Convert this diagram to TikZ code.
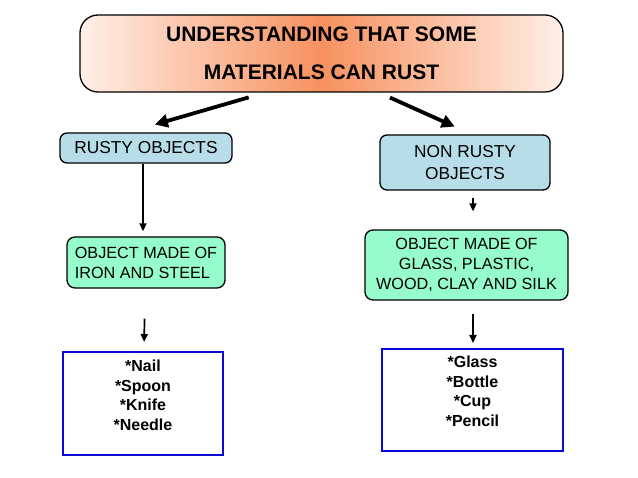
\documentclass[tikz,border=0pt]{standalone}
\usepackage{fontspec}
\setmainfont{Liberation Sans}
\usepackage{xcolor}
\usetikzlibrary{arrows.meta,positioning}
\definecolor{rustorange}{RGB}{247,145,95}
\definecolor{rustedge}{RGB}{255,240,232}
\definecolor{headblue}{RGB}{183,222,232}
\definecolor{kindgreen}{RGB}{150,252,204}
\definecolor{listblue}{RGB}{10,10,210}

\begin{document}
\begin{tikzpicture}[
  x=1pt, y=-1pt,
  titlebox/.style={draw, line width=1.3pt, rounded corners=18pt, left color=rustedge, right color=rustedge, middle color=rustorange,
    minimum width=483pt, minimum height=77pt, align=center, font=\fontsize{21}{38}\selectfont\bfseries},
  headbox/.style={draw, line width=1.3pt, rounded corners=7pt, fill=headblue, align=center, inner sep=0pt,
    font=\fontsize{17.3}{22}\selectfont},
  kindbox/.style={draw, line width=1.3pt, rounded corners=8pt, fill=kindgreen, inner sep=0pt,
    font=\fontsize{16.2}{20}\selectfont},
  listbox/.style={draw=listblue, line width=2pt, fill=white, inner sep=0pt},
  listtxt/.style={align=center, inner sep=0pt, font=\fontsize{16}{19.5}\selectfont\bfseries},
  bigarr/.style={-{Triangle[length=13pt, width=13pt]}, line width=3.8pt},
  arr/.style={-{Triangle[length=8pt, width=7pt]}, line width=1.7pt}
]
  \useasboundingbox (0,0) rectangle (638,478);

  \node[titlebox] (title) at (321.5, 53.5) {UNDERSTANDING THAT SOME\\MATERIALS CAN RUST};

  \node[headbox, minimum width=172pt, minimum height=30pt] (rusty)    at (146, 148)   {RUSTY OBJECTS};
  \node[headbox, minimum width=170pt, minimum height=55pt] (nonrusty) at (465, 162.5) {NON RUSTY\\OBJECTS};

  \node[kindbox, minimum width=158pt, minimum height=51pt, align=left] (iron) at (146, 262.5)
    {OBJECT MADE OF\\IRON AND STEEL};
  \node[kindbox, minimum width=203pt, minimum height=70pt, align=center] (glass) at (466.5, 265)
    {OBJECT MADE OF\\GLASS, PLASTIC,\\WOOD, CLAY AND SILK};

  % example lists
  \node[listbox, minimum width=160pt, minimum height=103pt] (nailbox)  at (143, 403.5) {};
  \node[listtxt, below=9pt of nailbox.north] (nails) {*Nail\\*Spoon\\*Knife\\*Needle};
  \node[listbox, minimum width=181pt, minimum height=102pt] (glassbox) at (472.5, 400) {};
  \node[listtxt, below=8pt of glassbox.north] (glasses) {*Glass\\*Bottle\\*Cup\\*Pencil};

  \draw[bigarr, shorten <=17pt, shorten >=28pt] ([xshift=-56.5pt]title.south) -- ([xshift=-18pt]rusty.north);
  \draw[bigarr, shorten <=12pt, shorten >=19pt] ([xshift=57.5pt]title.south) -- ([xshift=7pt]nonrusty.north);

  \draw[arr, shorten >=5pt] ([xshift=-3pt]rusty.south) -- ([xshift=-3pt]iron.north);
  \draw[arr, shorten <=30pt, shorten >=9pt] ([xshift=-1pt]iron.south) -- ([xshift=1pt]nailbox.north);
  \draw[arr, shorten <=7pt, shorten >=18pt] ([xshift=8pt]nonrusty.south) -- ([xshift=6.5pt]glass.north);
  \draw[arr, shorten <=13pt, shorten >=5pt] ([xshift=6.5pt]glass.south) -- ([xshift=0.5pt]glassbox.north);
\end{tikzpicture}
\end{document}
